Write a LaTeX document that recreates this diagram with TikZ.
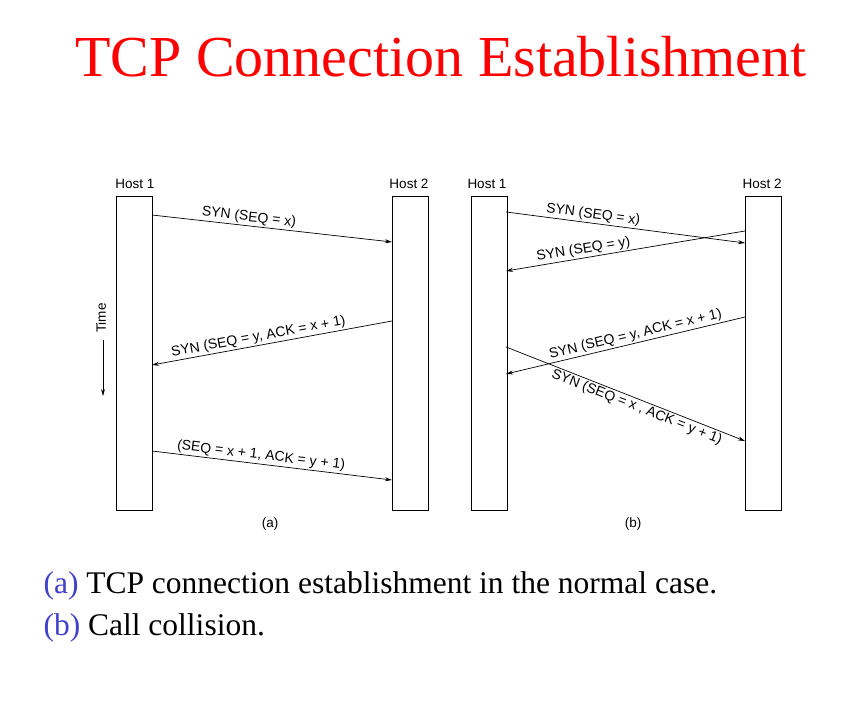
\documentclass[tikz,border=0pt]{standalone}
\usepackage{fontspec}
\setmainfont{Liberation Serif}
\setsansfont{Liberation Sans}
\usetikzlibrary{arrows.meta}
\begin{document}
\begin{tikzpicture}[x=1pt,y=-1pt,
  hostbox/.style={draw,line width=0.8pt,minimum width=36pt,minimum height=314pt,inner sep=0pt,anchor=north west},
  lbl/.style={font=\sffamily\fontsize{13.5}{15}\selectfont},
  msg/.style={line width=0.7pt,-{Stealth[length=7pt,width=4pt]}},
  ml/.style={font=\sffamily\fontsize{14}{16}\selectfont,sloped,inner sep=1.5pt}]
\useasboundingbox (0,0) rectangle (866,719);
\node[text=red,font=\fontsize{58}{64}\selectfont] (title) at (441,57) {TCP Connection Establishment};
% (a)
\node[hostbox] (a1) at (116,196) {};
\node[hostbox] (a2) at (392,196) {};
\node[lbl] (ha1) at (135,184) {Host 1};
\node[lbl] (ha2) at (409,184) {Host 2};
\node[lbl] (capa) at (270,524) {(a)};
\coordinate (p1) at (152,215); \coordinate (q1) at (392,242);
\coordinate (p2) at (392,321); \coordinate (q2) at (152,365);
\coordinate (p3) at (152,451); \coordinate (q3) at (392,480);
\draw[msg] (p1) -- node[ml,above,pos=0.4] {SYN (SEQ = x)} (q1);
\draw[msg] (p2) -- node[ml,above,pos=0.55] {SYN (SEQ = y, ACK = x + 1)} (q2);
\draw[msg] (p3) -- node[ml,above,pos=0.45] {(SEQ = x + 1, ACK = y + 1)} (q3);
\node[lbl,rotate=90] (time) at (101,318) {Time};
\coordinate (t1) at (103,340); \coordinate (t2) at (103,396);
\draw[line width=0.8pt,-{Stealth[length=7pt,width=4pt]}] (t1) -- (t2);
% (b)
\node[hostbox] (b1) at (471,196) {};
\node[hostbox] (b2) at (745,196) {};
\node[lbl] (hb1) at (487,184) {Host 1};
\node[lbl] (hb2) at (762,184) {Host 2};
\node[lbl] (capb) at (633,524) {(b)};
\coordinate (r1) at (506,212); \coordinate (s1) at (745,243);
\coordinate (r2) at (745,231); \coordinate (s2) at (506,271);
\coordinate (r3) at (745,317); \coordinate (s3) at (506,374);
\coordinate (r4) at (506,347); \coordinate (s4) at (745,441);
\draw[msg] (r1) -- node[ml,above,pos=0.36] {SYN (SEQ = x)} (s1);
\draw[msg] (r2) -- node[ml,above,pos=0.67] {SYN (SEQ = y)} (s2);
\draw[msg] (r3) -- node[ml,above,pos=0.45] {SYN (SEQ = y, ACK = x + 1)} (s3);
\draw[msg] (r4) -- node[ml,below,pos=0.56] {SYN (SEQ = x , ACK = y + 1)} (s4);
% caption
\node[anchor=west,font=\fontsize{31.5}{36}\selectfont] (c1) at (40,586) {\textcolor[rgb]{0.25,0.25,0.8}{(a)} TCP connection establishment in the normal case.};
\node[anchor=west,font=\fontsize{31.5}{36}\selectfont] (c2) at (40,628) {\textcolor[rgb]{0.25,0.25,0.8}{(b)} Call collision.};
\end{tikzpicture}
\end{document}
